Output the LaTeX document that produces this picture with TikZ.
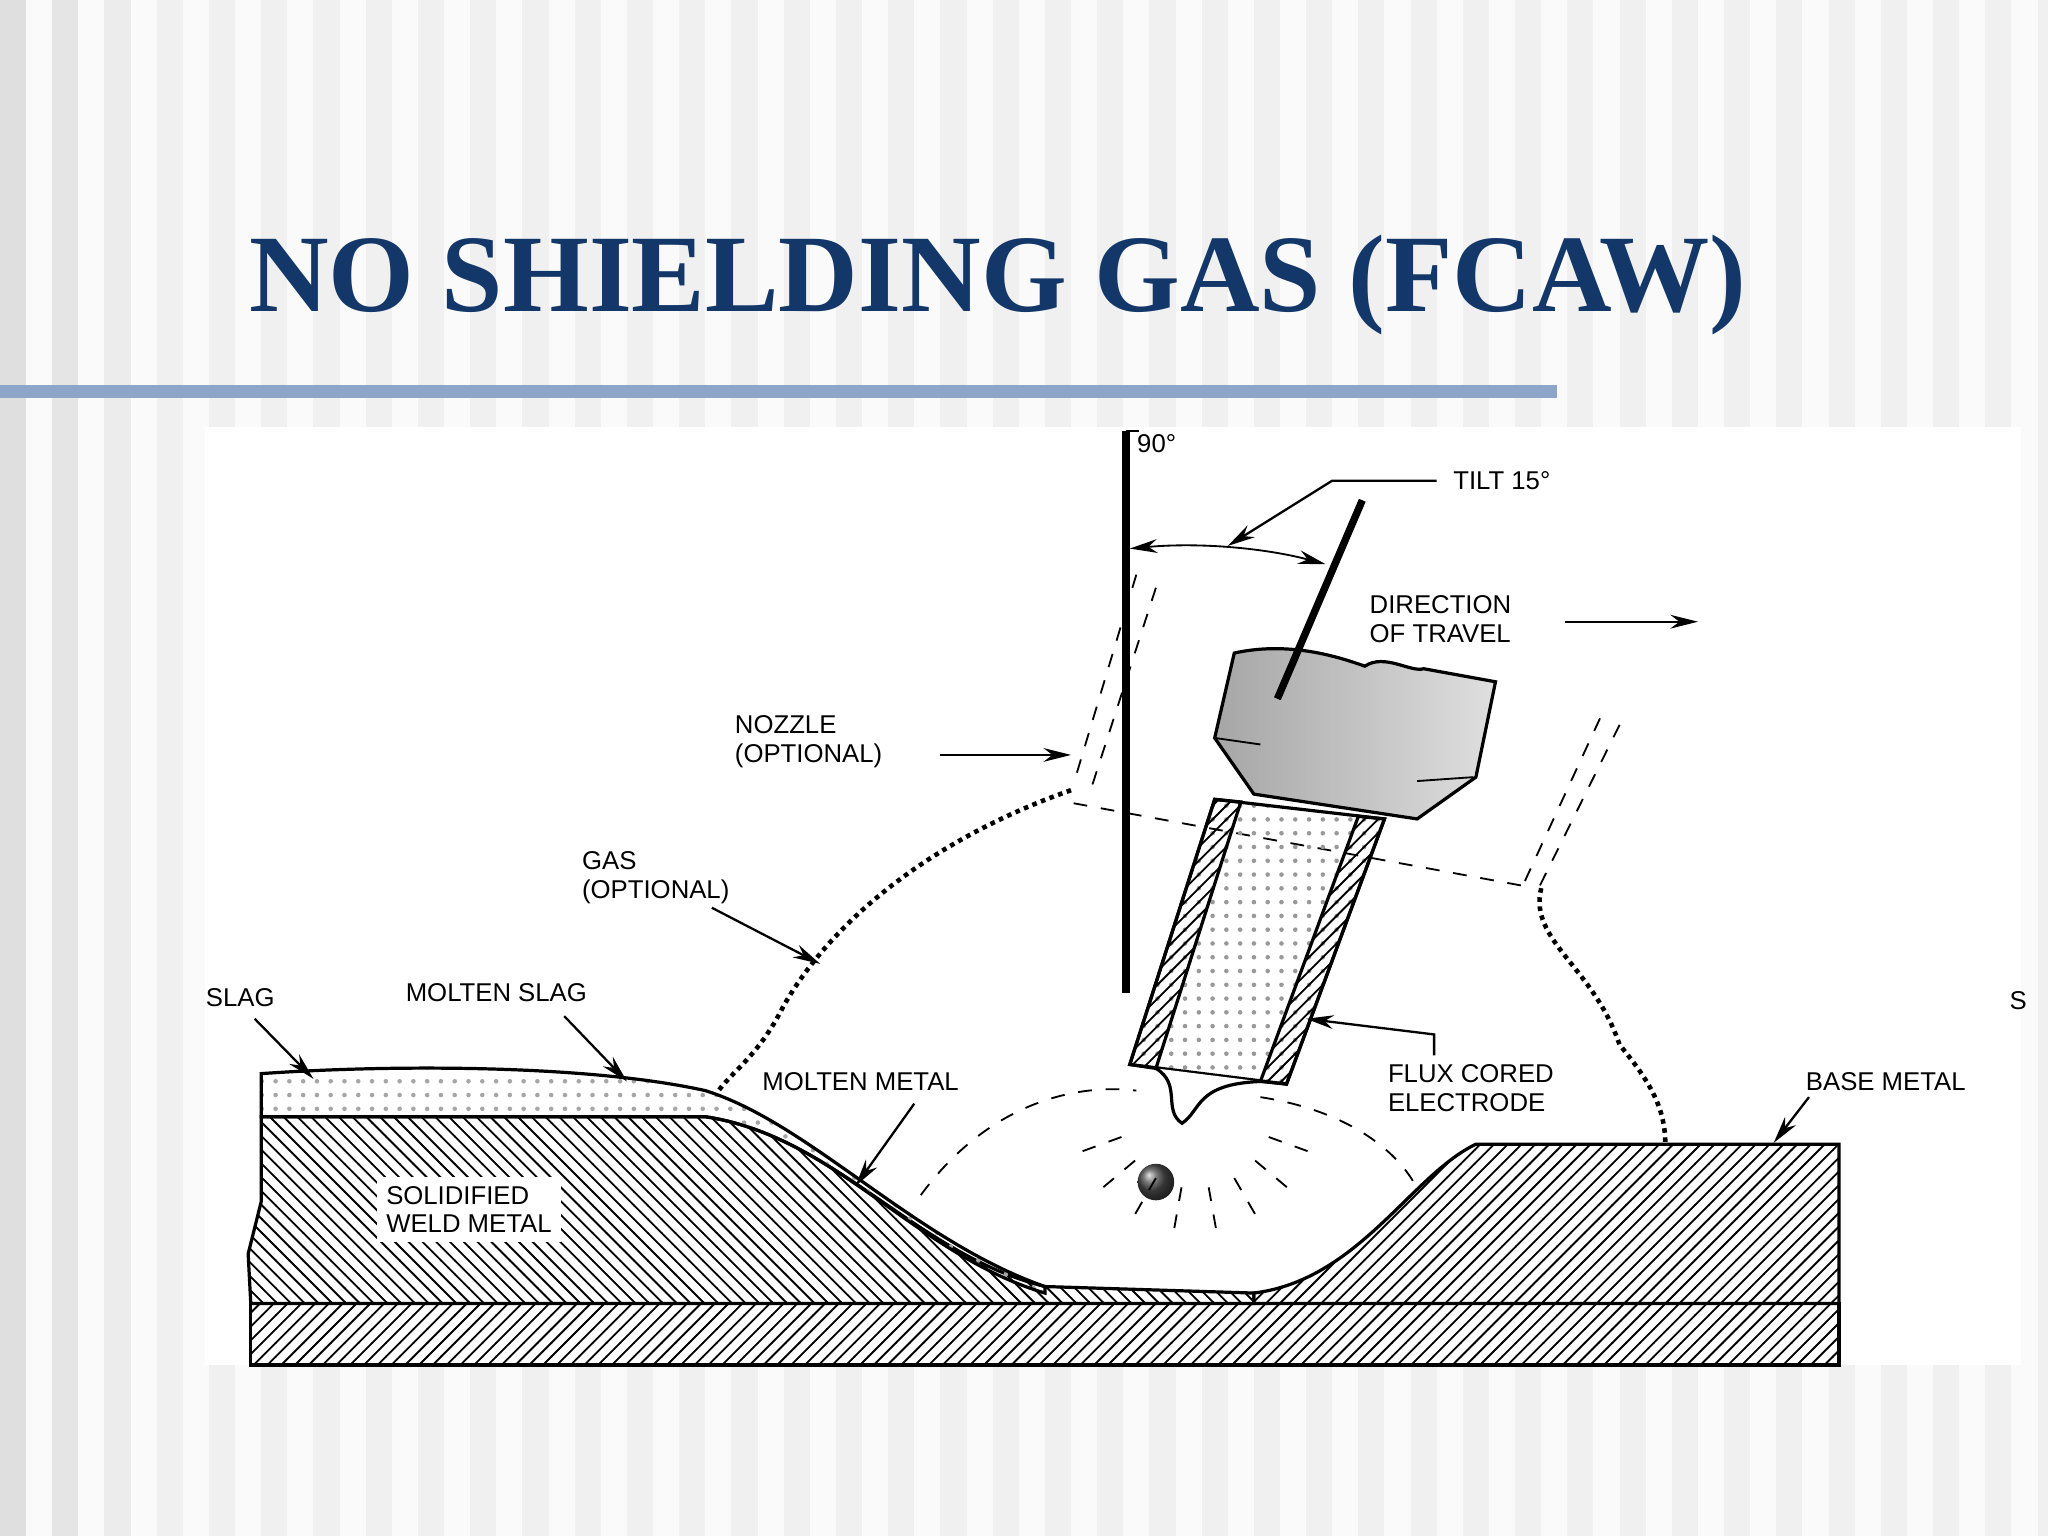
\documentclass[tikz,border=0pt]{standalone}
\usepackage{fontspec}
\setmainfont{Liberation Serif}
\newfontfamily\lab{Liberation Sans}
\usetikzlibrary{patterns,arrows.meta}
\definecolor{titleblue}{RGB}{20,55,105}
\definecolor{barblue}{RGB}{140,165,200}
\begin{document}
\begin{tikzpicture}[x={(0.01cm,0)},y={(0,-0.01cm)},
  lbl/.style={font=\lab\fontsize{5.6}{6.2}\selectfont,align=left,inner sep=0pt,anchor=west},
  arr/.style={-{Stealth[length=6,width=3]},line width=0.5pt},
  outl/.style={line width=0.7pt}]
\useasboundingbox (0,0) rectangle (1568,1176);
\fill[gray!12] (0,0) rectangle (1568,1176);
\foreach \i in {0,...,38} {\fill[white!60!gray!10] (\i*40+20,0) rectangle (\i*40+40,1176);}
\fill[gray!25] (0,0) rectangle (20,1176);
\fill[gray!20] (40,0) rectangle (60,1176);
\fill[gray!15] (80,0) rectangle (100,1176);
\node[titleblue,font=\bfseries\fontsize{24}{27}\selectfont,anchor=west,inner sep=0pt] (title) at (190,218) {NO SHIELDING GAS (FCAW)};
\fill[barblue] (0,295) rectangle (1192,305);
% panel
\fill[white] (157,327) rectangle (1547,1045);
% base bottom layer
\draw[outl,pattern=north east lines] (192,998) -- (1408,998) -- (1408,1045) -- (192,1045) -- cycle;
% weld metal
\draw[outl,pattern=north west lines] (200,855) -- (540,855) .. controls (640,870) and (700,960) .. (800,985) -- (960,990) -- (960,998) -- (192,998) -- (190,960) -- (200,920) -- cycle;
% base metal right
\draw[outl,pattern=north east lines] (960,990) .. controls (1040,980) and (1080,900) .. (1130,876) -- (1408,876) -- (1408,998) -- (960,998) -- cycle;
% slag
\draw[outl,pattern=dots,pattern color=gray!70] (200,822) .. controls (300,815) and (450,815) .. (540,835) .. controls (620,860) and (700,950) .. (800,985) -- (800,990) .. controls (700,960) and (640,870) .. (540,855) -- (200,855) -- cycle;
% gas stream
\draw[densely dotted,line width=1pt] (820,605) .. controls (720,640) and (640,700) .. (600,770) .. controls (580,810) and (560,820) .. (548,838);
\draw[densely dotted,line width=1pt] (1180,680) .. controls (1170,720) and (1220,740) .. (1240,800) .. controls (1265,830) and (1275,850) .. (1275,876);
% nozzle dashed
\draw[dashed] (870,440) -- (822,600) (885,450) -- (835,605);
\draw[dashed] (1225,550) -- (1165,680) (1240,555) -- (1178,680);
\draw[dashed] (822,615) -- (1165,678);
% vertical
\draw[line width=1.6pt] (862,330) -- (862,760);
\draw (862,330) -- (872,330);
% electrode tube
\draw[outl,pattern=dots,pattern color=gray!80] (930,612) -- (1060,627) -- (985,830) -- (865,815) -- cycle;
\draw[outl,pattern=north east lines] (930,612) -- (950,614) -- (885,818) -- (865,815) -- cycle;
\draw[outl,pattern=north east lines] (1040,625) -- (1060,627) -- (985,830) -- (965,828) -- cycle;
\draw[outl,fill=white] (885,818) .. controls (905,830) and (890,850) .. (905,860) .. controls (920,850) and (915,830) .. (965,828);
% contact tip block
\shade[left color=gray!70,right color=gray!25,draw=black,line width=0.7pt] (945,500) .. controls (990,490) and (1030,505) .. (1045,510) .. controls (1060,500) and (1080,515) .. (1090,512) -- (1145,522) -- (1130,595) -- (1085,627) -- (960,608) -- (930,565) -- cycle;
\draw (930,565) -- (965,570) (1085,598) -- (1128,595);
% tilt line
\draw[line width=1.6pt] (1043,383) -- (978,535);
% droplet
\shade[ball color=gray!60!black] (885,905) circle (14);
% spray
\draw[dashed] (705,915) .. controls (760,840) and (830,830) .. (870,835);
\draw[dashed] (965,840) .. controls (1030,850) and (1070,880) .. (1085,910);
\foreach \a in {200,220,240,260,280,300,320,340} {\draw[dashed] (915,850) ++({cos(\a)*60},{-sin(\a)*60}) -- ++({cos(\a)*40},{-sin(\a)*40});}
% angle arc
\draw[{Stealth[length=6,width=3]}-{Stealth[length=6,width=3]}] (865,420) .. controls (920,415) and (970,420) .. (1015,432);
% labels
\node[lbl] (t90) at (870,340) {90°};
\node[lbl] (tilt) at (1112,368) {TILT 15°};
\coordinate (tiltend) at (940,418);
\draw[arr] (tilt.west) ++(-12,0) -- (1020,368) -- (tiltend);
\node[lbl] (dir) at (1048,474) {DIRECTION\\OF TRAVEL};
\coordinate (dirend) at (1300,476);
\draw[arr] (1198,476) -- (dirend);
\node[lbl] (noz) at (562,568) {NOZZLE\\(OPTIONAL)};
\coordinate (nozend) at (820,578);
\draw[arr] (720,578) -- (nozend);
\node[lbl] (gas) at (445,672) {GAS\\(OPTIONAL)};
\coordinate (gasend) at (628,738);
\draw[arr] (545,695) -- (gasend);
\node[lbl] (slag) at (157,764) {SLAG};
\coordinate (slagend) at (240,826);
\draw[arr] (195,780) -- (slagend);
\node[lbl] (mslag) at (310,760) {MOLTEN SLAG};
\coordinate (mslagend) at (480,828);
\draw[arr] (432,778) -- (mslagend);
\node[lbl,fill=white,inner sep=2pt] (mm) at (576,828) {MOLTEN METAL};
\coordinate (mmend) at (655,908);
\draw[arr] (700,845) -- (mmend);
\node[lbl] (flux) at (1062,833) {FLUX CORED\\ELECTRODE};
\coordinate (fluxend) at (1000,780);
\draw[arr] (1098,808) -- (1098,792) -- (fluxend);
\node[lbl] (base) at (1382,828) {BASE METAL};
\coordinate (baseend) at (1358,875);
\draw[arr] (1385,840) -- (baseend);
\node[lbl,fill=white,inner sep=2pt] (sol) at (288,926) {SOLIDIFIED\\WELD METAL};
\node[lbl] (s2) at (1538,766) {S};
\end{tikzpicture}
\end{document}
